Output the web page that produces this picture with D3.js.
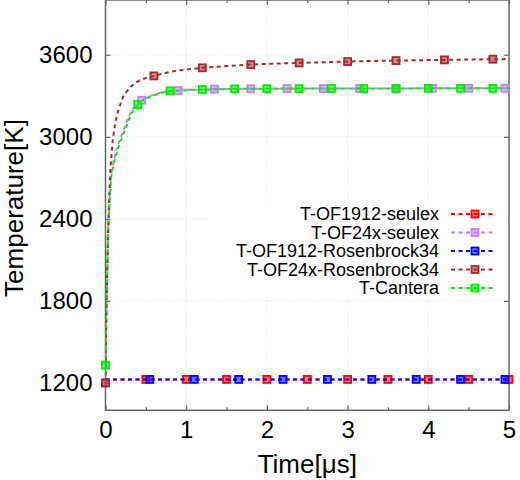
<!DOCTYPE html>
<html>
<head>
<meta charset="utf-8">
<script src="https://cdn.jsdelivr.net/npm/d3@7"></script>
<style>
  body { margin: 0; background: #fff; }
  text { font-family: "Liberation Sans", Arial, sans-serif; fill: #000; }
</style>
</head>
<body>
<svg id="chart" width="520" height="480"></svg>
<script>
// ---- data ----
const names = ["T-OF1912-seulex", "T-OF24x-seulex", "T-OF1912-Rosenbrock34", "T-OF24x-Rosenbrock34", "T-Cantera"];
const colors = ["#ff0000", "#c080ff", "#0000ff", "#a52a2a", "#00ee00"];

const xTicks = [0, 1, 2, 3, 4, 5];
const yTicks = [1200, 1800, 2400, 3000, 3600];

// T-OF1912-seulex (no ignition)
const seulex1912T = [0, 5];
const seulex1912V = [1226, 1226];
const seulex1912MarkT = [0.5, 1.0, 1.5, 2.0, 2.5, 3.0, 3.5, 4.0, 4.5, 5.0];
const seulex1912MarkV = [1226, 1226, 1226, 1226, 1226, 1226, 1226, 1226, 1226, 1226];

// T-OF24x-seulex
const seulex24T = [0, 0.004, 0.01, 0.02, 0.035, 0.05, 0.07, 0.09, 0.11, 0.14, 0.17, 0.21, 0.24, 0.28, 0.32, 0.36, 0.4, 0.45, 0.5, 0.6, 0.7, 0.8, 0.9, 1.0, 1.35, 1.8, 2.5, 3.0, 4.0, 5.0];
const seulex24V = [1200, 1420, 1680, 1940, 2330, 2520, 2720, 2790, 2845, 2910, 2965, 3030, 3075, 3135, 3185, 3222, 3248, 3267, 3285, 3308, 3325, 3334, 3338, 3342, 3348, 3351, 3352, 3353, 3354, 3354];
const seulex24MarkT = [0, 0.45, 0.9, 1.35, 1.8, 2.25, 2.7, 3.15, 3.6, 4.05, 4.5, 4.95];
const seulex24MarkV = [1200, 3267, 3338, 3348, 3351, 3352, 3352, 3353, 3353, 3354, 3354, 3354];

// T-OF1912-Rosenbrock34 (no ignition)
const ros1912T = [0, 5];
const ros1912V = [1226, 1226];
const ros1912MarkT = [0.55, 1.1, 1.65, 2.2, 2.75, 3.3, 3.85, 4.4, 4.95];
const ros1912MarkV = [1226, 1226, 1226, 1226, 1226, 1226, 1226, 1226, 1226];

// T-OF24x-Rosenbrock34
const ros24T = [0, 0.004, 0.01, 0.018, 0.03, 0.045, 0.065, 0.09, 0.12, 0.16, 0.22, 0.3, 0.4, 0.5, 0.6, 0.8, 1.0, 1.2, 1.5, 1.8, 2.1, 2.4, 2.7, 3.0, 3.3, 3.6, 3.9, 4.2, 4.5, 4.8, 5.0];
const ros24V = [1200, 1450, 1700, 1950, 2250, 2550, 2800, 2980, 3100, 3200, 3295, 3360, 3405, 3430, 3445, 3475, 3492, 3504, 3517, 3528, 3535, 3540, 3545, 3550, 3554, 3557, 3560, 3562, 3565, 3567, 3568];
const ros24MarkT = [0, 0.6, 1.2, 1.8, 2.4, 3.0, 3.6, 4.2, 4.8];
const ros24MarkV = [1200, 3445, 3504, 3528, 3540, 3550, 3557, 3562, 3567];

// T-Cantera
const canteraT = [0, 0.004, 0.01, 0.02, 0.035, 0.05, 0.072, 0.09, 0.114, 0.14, 0.176, 0.21, 0.24, 0.28, 0.32, 0.36, 0.4, 0.45, 0.5, 0.6, 0.7, 0.8, 1.0, 1.2, 1.6, 2.0, 3.0, 4.0, 5.0];
const canteraV = [1330, 1480, 1700, 1950, 2350, 2530, 2712, 2770, 2829, 2885, 2951, 3005, 3048, 3110, 3170, 3207, 3236, 3262, 3280, 3304, 3322, 3335, 3341, 3345, 3350, 3352, 3353, 3354, 3354];
const canteraMarkT = [0, 0.4, 0.8, 1.2, 1.6, 2.0, 2.4, 2.8, 3.2, 3.6, 4.0, 4.4, 4.8];
const canteraMarkV = [1330, 3236, 3335, 3345, 3350, 3352, 3352, 3353, 3353, 3353, 3354, 3354, 3354];

const lineT = [seulex1912T, seulex24T, ros1912T, ros24T, canteraT];
const lineV = [seulex1912V, seulex24V, ros1912V, ros24V, canteraV];
const markT = [seulex1912MarkT, seulex24MarkT, ros1912MarkT, ros24MarkT, canteraMarkT];
const markV = [seulex1912MarkV, seulex24MarkV, ros1912MarkV, ros24MarkV, canteraMarkV];

const series = names.map((name, i) => ({
  name,
  color: colors[i],
  line: lineT[i].map((t, j) => [t, lineV[i][j]]),
  marks: markT[i].map((t, j) => [t, markV[i][j]])
}));

// ---- layout ----
const svg = d3.select('#chart');
const plotL = 105.5, plotR = 509, plotT = 0, plotB = 410.3;

const x = d3.scaleLinear().domain([0, 5]).range([plotL, plotR]);
const y = d3.scaleLinear().domain([1000, 4000]).range([plotB, plotT]);

svg.append("defs").append("clipPath").attr("id", "plotclip")
  .append("rect")
    .attr("x", plotL).attr("y", plotT)
    .attr("width", plotR - plotL).attr("height", plotB - plotT);

// grid
const grid = svg.append("g").attr("stroke", "#d8d8d8").attr("stroke-width", 1).attr("stroke-dasharray", "1,2");
grid.selectAll(".gx").data(xTicks.slice(1, -1)).join("line")
  .attr("x1", d => x(d)).attr("x2", d => x(d))
  .attr("y1", plotT).attr("y2", plotB);
grid.selectAll(".gy").data(yTicks).join("line")
  .attr("x1", plotL).attr("x2", plotR)
  .attr("y1", d => y(d)).attr("y2", d => y(d));

// axes (ticks pointing inward, mirrored on top/right)
const styleAxis = g => {
  g.select(".domain").remove();
  g.selectAll(".tick line").attr("stroke", "#666").attr("stroke-width", 1.2);
  g.selectAll(".tick text").attr("font-size", "24px").attr("fill", "#000")
    .attr("font-family", '"Liberation Sans", Arial, sans-serif');
};

svg.append("g")
  .attr("transform", `translate(0,${plotB})`)
  .call(d3.axisBottom(x).tickValues(xTicks).tickFormat(d3.format("d")).tickSizeInner(-5).tickSizeOuter(0).tickPadding(11))
  .call(styleAxis);
svg.append("g")
  .attr("transform", `translate(0,${plotB})`)
  .call(d3.axisBottom(x).tickValues(d3.range(0.5, 5, 1)).tickFormat("").tickSizeInner(-3).tickSizeOuter(0))
  .call(styleAxis);
svg.append("g")
  .attr("transform", `translate(0,${plotT})`)
  .call(d3.axisTop(x).tickValues(xTicks).tickFormat("").tickSizeInner(-5).tickSizeOuter(0))
  .call(styleAxis);
svg.append("g")
  .attr("transform", `translate(0,${plotT})`)
  .call(d3.axisTop(x).tickValues(d3.range(0.5, 5, 1)).tickFormat("").tickSizeInner(-3).tickSizeOuter(0))
  .call(styleAxis);
svg.append("g")
  .attr("transform", `translate(${plotL},0)`)
  .call(d3.axisLeft(y).tickValues(yTicks).tickFormat(d3.format("d")).tickSizeInner(-5).tickSizeOuter(0).tickPadding(13))
  .call(styleAxis);
svg.append("g")
  .attr("transform", `translate(${plotR},0)`)
  .call(d3.axisRight(y).tickValues(yTicks).tickFormat("").tickSizeInner(-5).tickSizeOuter(0))
  .call(styleAxis);

// frame
svg.append("rect")
  .attr("x", plotL).attr("y", plotT)
  .attr("width", plotR - plotL).attr("height", plotB - plotT)
  .attr("fill", "none").attr("stroke", "#666").attr("stroke-width", 1.5);

// series: lines clipped to the plot, markers drawn whole (as gnuplot does)
const line = d3.line().x(d => x(d[0])).y(d => y(d[1]));
const plot = svg.append("g");

function drawMark(g, cx, cy, color) {
  g.append("rect")
    .attr("x", cx - 3.5).attr("y", cy - 3.5)
    .attr("width", 7).attr("height", 7)
    .attr("fill", color).attr("fill-opacity", 0.55)
    .attr("stroke", color).attr("stroke-width", 1.8);
}

series.forEach(s => {
  const g = plot.append("g");
  g.append("path")
    .datum(s.line)
    .attr("d", line)
    .attr("clip-path", "url(#plotclip)")
    .attr("fill", "none")
    .attr("stroke", s.color)
    .attr("stroke-width", 2)
    .attr("stroke-dasharray", "4,3.5");
  s.marks.forEach(d => drawMark(g, x(d[0]), y(d[1]), s.color));
});

// legend (opaque key box like the original)
const legend = svg.append("g");
legend.append("rect")
  .attr("x", 208).attr("y", 203)
  .attr("width", 300).attr("height", 94)
  .attr("fill", "#fff");
series.forEach((s, i) => {
  const cy = 214 + i * 18.5;
  legend.append("text")
    .attr("x", 439).attr("y", cy)
    .attr("dy", "0.35em")
    .attr("text-anchor", "end")
    .attr("font-size", "18px")
    .text(s.name);
  legend.append("line")
    .attr("x1", 451).attr("x2", 495)
    .attr("y1", cy).attr("y2", cy)
    .attr("stroke", s.color).attr("stroke-width", 2)
    .attr("stroke-dasharray", "4,3.5");
  drawMark(legend, 475, cy, s.color);
});

// axis titles
svg.append("text")
  .attr("x", (plotL + plotR) / 2).attr("y", 473)
  .attr("text-anchor", "middle")
  .attr("font-size", "26px")
  .text("Time[μs]");
svg.append("text")
  .attr("transform", "translate(23,208) rotate(-90)")
  .attr("text-anchor", "middle")
  .attr("font-size", "26px")
  .text("Temperature[K]");
</script>
</body>
</html>
